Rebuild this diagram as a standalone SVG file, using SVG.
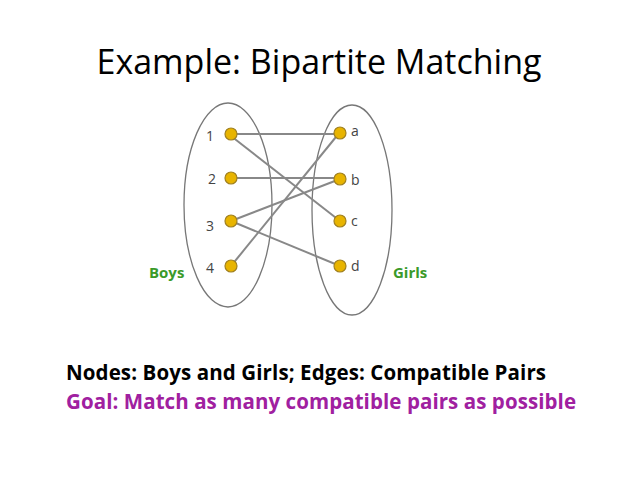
<svg xmlns="http://www.w3.org/2000/svg" width="638" height="478" viewBox="0 0 638 478">
<style>
.n{fill:#e8b400;stroke:#a08020;stroke-width:1.2}
.e{stroke:#888;stroke-width:2;fill:none}
.o{fill:none;stroke:#777;stroke-width:1.3}
.l{font-family:"Open Sans","Liberation Sans",sans-serif;font-size:14px;fill:#444}
.g{font-family:"Open Sans","Liberation Sans",sans-serif;font-size:15px;font-weight:bold;fill:#3a9a2a}
.t{font-family:"Open Sans","Liberation Sans",sans-serif;font-size:20.5px;font-weight:bold}
</style>
<rect width="638" height="478" fill="#fff"/>
<text x="319" y="74" text-anchor="middle" font-family="Open Sans, Liberation Sans, sans-serif" font-size="34" fill="#000" textLength="445">Example: Bipartite Matching</text>
<ellipse class="o" cx="228" cy="205" rx="44" ry="102"/>
<ellipse class="o" cx="352" cy="210" rx="40" ry="105"/>
<g id="edges">
<line class="e" x1="231" y1="134" x2="340" y2="134"/>
<line class="e" x1="231" y1="136" x2="340" y2="221"/>
<line class="e" x1="231" y1="178" x2="340" y2="178"/>
<line class="e" x1="231" y1="221" x2="340" y2="179"/>
<line class="e" x1="231" y1="221" x2="340" y2="266"/>
<line class="e" x1="231" y1="266" x2="340" y2="132"/>
</g>
<g id="n1"><circle class="n" cx="231" cy="134" r="6"/><text class="l" x="206" y="141">1</text></g>
<g id="n2"><circle class="n" cx="231" cy="178" r="6"/><text class="l" x="208" y="184">2</text></g>
<g id="n3"><circle class="n" cx="231" cy="221" r="6"/><text class="l" x="206" y="231">3</text></g>
<g id="n4"><circle class="n" cx="231" cy="266" r="6"/><text class="l" x="206" y="273">4</text></g>
<g id="na"><circle class="n" cx="340" cy="133" r="6"/><text class="l" x="351" y="136">a</text></g>
<g id="nb"><circle class="n" cx="340" cy="179" r="6"/><text class="l" x="351" y="185">b</text></g>
<g id="nc"><circle class="n" cx="340" cy="221" r="6"/><text class="l" x="351" y="226">c</text></g>
<g id="nd"><circle class="n" cx="340" cy="266" r="6"/><text class="l" x="351" y="271">d</text></g>
<text class="g" x="149" y="278">Boys</text>
<text class="g" x="393" y="278">Girls</text>
<text class="t" x="66" y="380" fill="#000" textLength="480">Nodes: Boys and Girls; Edges: Compatible Pairs</text>
<text class="t" x="66" y="409" fill="#a020a0" textLength="510">Goal: Match as many compatible pairs as possible</text>
</svg>
